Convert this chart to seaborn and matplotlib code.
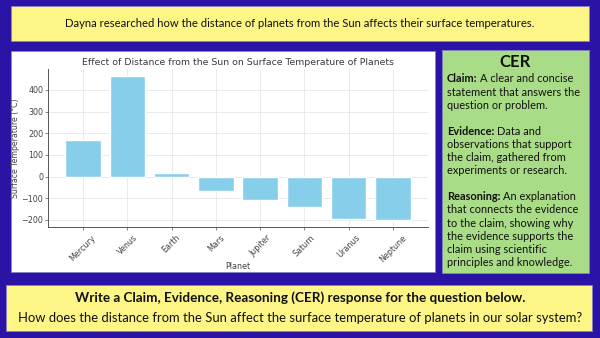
import matplotlib
matplotlib.use("Agg")
import matplotlib.pyplot as plt
import seaborn as sns
import pandas as pd
from matplotlib.patches import Rectangle

# Data
planets = ["Mercury", "Venus", "Earth", "Mars", "Jupiter", "Saturn", "Uranus", "Neptune"]
temps_c = [167, 464, 15, -65, -110, -140, -195, -200]
y_ticks = [-200, -100, 0, 100, 200, 300, 400]

header_text = "Dayna researched how the distance of planets from the Sun affects their surface temperatures."
prompt_bold = "Write a Claim, Evidence, Reasoning (CER) response for the question below."
prompt_text = "How does the distance from the Sun affect the surface temperature of planets in our solar system?"
cer_title = "CER"
cer_sections = [
    ("Claim:", ["A clear and concise", "statement that answers the", "question or problem."]),
    ("Evidence:", ["Data and", "observations that support", "the claim, gathered from", "experiments or research."]),
    ("Reasoning:", ["An explanation", "that connects the evidence", "to the claim, showing why", "the evidence supports the", "claim using scientific", "principles and knowledge."]),
]

df = pd.DataFrame({"Planet": planets, "Temp": temps_c})

sns.set_style("whitegrid")
plt.rcParams["font.family"] = ["DejaVu Sans"]

W, H = 600, 338
fig = plt.figure(figsize=(W / 100, H / 100), dpi=100)
fig.patch.set_facecolor("#2b13a6")

YELLOW = "#fdf586"
GREEN = "#a9dc87"


def box(x0, y0, x1, y1, color):
    # pixel coords with origin at top-left
    fig.patches.append(Rectangle((x0 / W, 1 - y1 / H), (x1 - x0) / W, (y1 - y0) / H,
                                 transform=fig.transFigure, facecolor=color,
                                 edgecolor="#8a80c8", linewidth=0.6, zorder=-5))


box(11, 6, 589, 41, YELLOW)
box(11, 51, 435, 272, "white")
box(442, 50, 589, 273, GREEN)
box(6, 285, 592, 331, YELLOW)

TXT = ["Lato", "DejaVu Sans"]

fig.text(300 / W, 1 - 23.5 / H, header_text, ha="center", va="center",
         fontsize=8.1, family=TXT, color="#111111")
fig.text(300 / W, 1 - 298 / H, prompt_bold, ha="center", va="center",
         fontsize=9.7, family=TXT, fontweight="bold", color="#111111")
fig.text(300 / W, 1 - 318 / H, prompt_text, ha="center", va="center",
         fontsize=9.35, family=TXT, color="#111111")

fig.text(515.5 / W, 1 - 62 / H, cer_title, ha="center", va="center",
         fontsize=12, family=TXT, fontweight="bold", color="#111111")

renderer = fig.canvas.get_renderer()
x_left = 447
line_h = 13.1
fs = 7.9
y = 79
for label, lines in cer_sections:
    t = fig.text(x_left / W, 1 - y / H, label, ha="left", va="center",
                 fontsize=fs, family=TXT, fontweight="bold", color="#111111")
    bb = t.get_window_extent(renderer=renderer)
    fig.text((bb.x1 + 3) / W, 1 - y / H, lines[0], ha="left", va="center",
             fontsize=fs, family=TXT, color="#111111")
    for ln in lines[1:]:
        y += line_h
        fig.text(x_left / W, 1 - y / H, ln, ha="left", va="center",
                 fontsize=fs, family=TXT, color="#111111")
    y += line_h * 2

# Bar chart
ax = fig.add_axes([48 / W, 1 - 227 / H, 380 / W, 158 / H])
sns.barplot(data=df, x="Planet", y="Temp", color="#87ceeb", saturation=1,
            width=0.8, ax=ax, zorder=2)
ax.set_xlim(-0.79, len(planets) - 1 + 0.79)
ax.set_ylim(-233, 497)
ax.set_yticks(y_ticks)
ax.grid(True, color="#e6e6e6", linewidth=0.6)
ax.set_axisbelow(True)
for s in ["top", "right"]:
    ax.spines[s].set_visible(False)
for s in ["left", "bottom"]:
    ax.spines[s].set_visible(True)
    ax.spines[s].set_color("#555555")
    ax.spines[s].set_linewidth(0.7)
ax.tick_params(axis="both", which="both", length=2, width=0.5, color="#555555",
               labelsize=5.8, labelcolor="#444444", pad=1.5)
ax.tick_params(axis="x", bottom=True, pad=2.5)
ax.tick_params(axis="y", left=True)
plt.setp(ax.get_xticklabels(), rotation=45, ha="center")
ax.set_title("Effect of Distance from the Sun on Surface Temperature of Planets",
             fontsize=6.75, color="#3a3a3a", pad=3)
ax.set_xlabel("Planet", fontsize=5.8, color="#444444")
ax.set_ylabel("Surface Temperature (°C)", fontsize=5.6, color="#444444")
ax.yaxis.set_label_coords(-28 / 380, 0.5)
ax.xaxis.set_label_coords(0.5, -(262 - 227) / 158)

fig.savefig("out.png", dpi=100, facecolor=fig.get_facecolor())
